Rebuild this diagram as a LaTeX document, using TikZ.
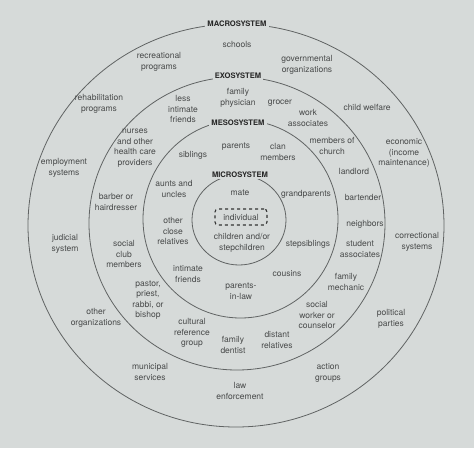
\documentclass[tikz,border=0pt]{standalone}
\usepackage{fontspec}
\setmainfont{TeX Gyre Heros}
\usepackage{tikz}

\definecolor{paper}{RGB}{214,218,217}
\definecolor{ink}{RGB}{72,74,74}
\definecolor{ring}{RGB}{96,99,99}

\begin{document}
\begin{tikzpicture}[x=1pt,y=-1pt,
	item/.style={align=center,text=ink,font=\fontsize{8.5}{10.5}\selectfont,inner sep=0pt},
	sysname/.style={fill=paper,text=black!85,font=\bfseries\fontsize{7.6}{9}\selectfont,inner xsep=2pt,inner ysep=1pt},
	ringline/.style={draw=ring,line width=0.8pt}]
\fill[paper] (0,0) rectangle (474,448);
\useasboundingbox (0,0) rectangle (474,448);

% the four systems
\draw[ringline] (236,225.5) ellipse (208 and 201.5);
\draw[ringline] (237,223.5) ellipse (148 and 146.5);
\draw[ringline] (240.5,219) ellipse (97.5 and 99);
\draw[ringline] (239,220) ellipse (47 and 45);

\node[sysname] (macro) at (237,24) {MACROSYSTEM};
\node[sysname] (exo) at (238,76) {EXOSYSTEM};
\node[sysname] (meso) at (238,123) {MESOSYSTEM};
\node[sysname] (micro) at (240,175) {MICROSYSTEM};

% macrosystem
\node[item] (schools) at (237,44) {schools};
\node[item] (recreation) at (159,62) {recreational\\programs};
\node[item] (government) at (307,65) {governmental\\organizations};
\node[item] (rehab) at (99,104) {rehabilitation\\programs};
\node[item] (welfare) at (367,107) {child welfare};
\node[item] (employment) at (64,168) {employment\\systems};
\node[item] (economic) at (404,153) {economic\\(income\\maintenance)};
\node[item] (judicial) at (65,244) {judicial\\system};
\node[item] (correctional) at (417,242) {correctional\\systems};
\node[item] (otherorg) at (96,318) {other\\organizations};
\node[item] (political) at (391,319) {political\\parties};
\node[item] (municipal) at (150,372) {municipal\\services};
\node[item] (action) at (328,373) {action\\groups};
\node[item] (law) at (240,391) {law\\enforcement};

% exosystem
\node[item] (lessfriends) at (183,109) {less\\intimate\\friends};
\node[item] (physician) at (238,98) {family\\physician};
\node[item] (grocer) at (280,103) {grocer};
\node[item] (work) at (308,118) {work\\associates};
\node[item] (nurses) at (135,148) {nurses\\and other\\health care\\providers};
\node[item] (church) at (332,146) {members of\\church};
\node[item] (landlord) at (354,171) {landlord};
\node[item] (bartender) at (363,197) {bartender};
\node[item] (neighbors) at (365,224) {neighbors};
\node[item] (student) at (360,249) {student\\associates};
\node[item] (mechanic) at (346,282) {family\\mechanic};
\node[item] (socialworker) at (317,315) {social\\worker or\\counselor};
\node[item] (distant) at (277,340) {distant\\relatives};
\node[item] (dentist) at (233,345) {family\\dentist};
\node[item] (cultural) at (192,333) {cultural\\reference\\group};
\node[item] (pastor) at (148,300) {pastor,\\priest,\\rabbi, or\\bishop};
\node[item] (club) at (124,254) {social\\club\\members};
\node[item] (barber) at (116,202) {barber or\\hairdresser};

% mesosystem
\node[item] (siblings) at (193,155) {siblings};
\node[item] (parents) at (236,147) {parents};
\node[item] (clan) at (278,152) {clan\\members};
\node[item] (aunts) at (174,189) {aunts and\\uncles};
\node[item] (relatives) at (173,231) {other\\close\\relatives};
\node[item] (intimate) at (188,274) {intimate\\friends};
\node[item] (inlaw) at (241,291) {parents-\\in-law};
\node[item] (cousins) at (287,274) {cousins};
\node[item] (stepsiblings) at (308,244) {stepsiblings};
\node[item] (grandparents) at (306,194) {grandparents};

% microsystem
\node[item] (mate) at (240,193) {mate};
\node[item,draw=black!80,dashed,line width=1.1pt,rounded corners=3pt,
	minimum width=52,minimum height=16] (individual) at (241,217) {individual};
\node[item] (children) at (242,243) {children and/or\\stepchildren};
\end{tikzpicture}
\end{document}
